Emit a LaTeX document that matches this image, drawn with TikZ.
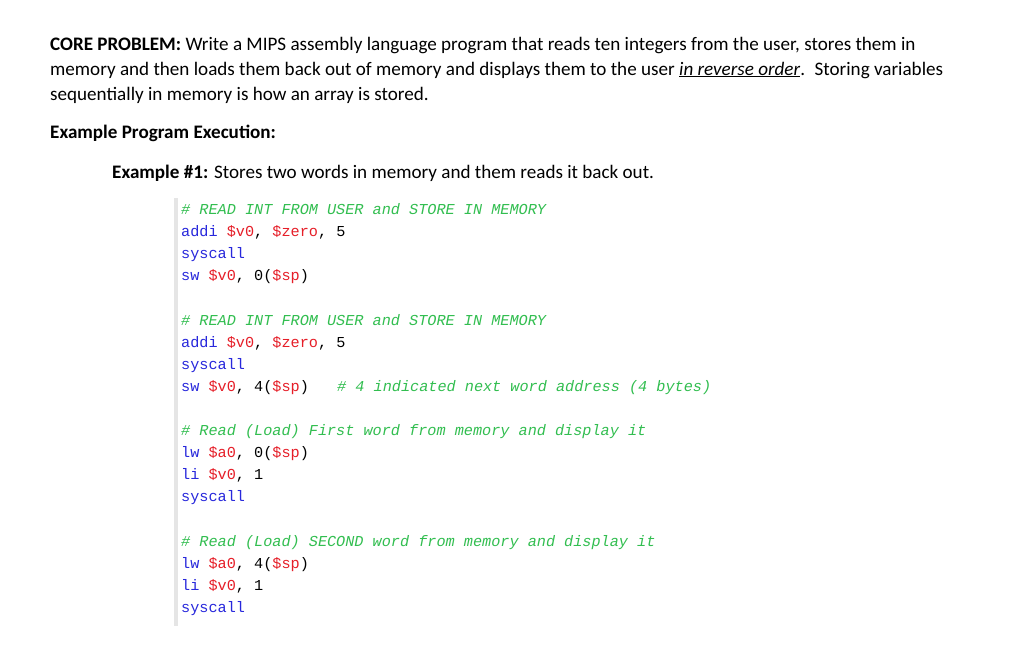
\documentclass[tikz,border=0pt]{standalone}
\usepackage{fontspec}
\setmainfont{Carlito}
\setmonofont{Liberation Mono}
\definecolor{cgreen}{RGB}{50,190,80}
\definecolor{cblue}{RGB}{40,40,220}
\definecolor{cred}{RGB}{230,30,40}
\newcommand{\cm}[1]{\textcolor{cgreen}{\textit{#1}}}
\newcommand{\kw}[1]{\textcolor{cblue}{#1}}
\newcommand{\rg}[1]{\textcolor{cred}{#1}}
\begin{document}
\begin{tikzpicture}[x=1pt,y=-1pt,
  txt/.style={anchor=base west,inner sep=0pt,font=\fontsize{19.1}{22}\selectfont},
  code/.style={anchor=base west,inner sep=0pt,font=\ttfamily\fontsize{15.2}{18}\selectfont}]
\useasboundingbox[fill=white] (0,0) rectangle (1024,648);
\fill[gray!20] (174,198) rectangle (178,626);
\node[txt] (l1) at (50,50) {\textbf{CORE PROBLEM:} Write a MIPS assembly language program that reads ten integers from the user, stores them in};
\node[txt] (l2) at (50,75) {memory and then loads them back out of memory and displays them to the user \underline{\textit{in reverse order}}.\enspace Storing variables};
\node[txt] (l3) at (50,100) {sequentially in memory is how an array is stored.};
\node[txt] (l4) at (50,138) {\textbf{Example Program Execution:}};
\node[txt] (l5) at (112,178) {\textbf{Example \#1:} Stores two words in memory and them reads it back out.};
\node[code] (c1) at (181,214) {\cm{\# READ INT FROM USER and STORE IN MEMORY}};
\node[code] (c2) at (181,236) {\kw{addi} \rg{\$v0}, \rg{\$zero}, 5};
\node[code] (c3) at (181,258) {\kw{syscall}};
\node[code] (c4) at (181,280) {\kw{sw} \rg{\$v0}, 0(\rg{\$sp})};
\node[code] (c5) at (181,325) {\cm{\# READ INT FROM USER and STORE IN MEMORY}};
\node[code] (c6) at (181,347) {\kw{addi} \rg{\$v0}, \rg{\$zero}, 5};
\node[code] (c7) at (181,369) {\kw{syscall}};
\node[code] (c8) at (181,391) {\kw{sw} \rg{\$v0}, 4(\rg{\$sp})};
\node[code] (c8b) at (337,391) {\cm{\# 4 indicated next word address (4 bytes)}};
\node[code] (c9) at (181,435) {\cm{\# Read (Load) First word from memory and display it}};
\node[code] (c10) at (181,457) {\kw{lw} \rg{\$a0}, 0(\rg{\$sp})};
\node[code] (c11) at (181,479) {\kw{li} \rg{\$v0}, 1};
\node[code] (c12) at (181,501) {\kw{syscall}};
\node[code] (c13) at (181,546) {\cm{\# Read (Load) SECOND word from memory and display it}};
\node[code] (c14) at (181,568) {\kw{lw} \rg{\$a0}, 4(\rg{\$sp})};
\node[code] (c15) at (181,590) {\kw{li} \rg{\$v0}, 1};
\node[code] (c16) at (181,612) {\kw{syscall}};
\end{tikzpicture}
\end{document}
